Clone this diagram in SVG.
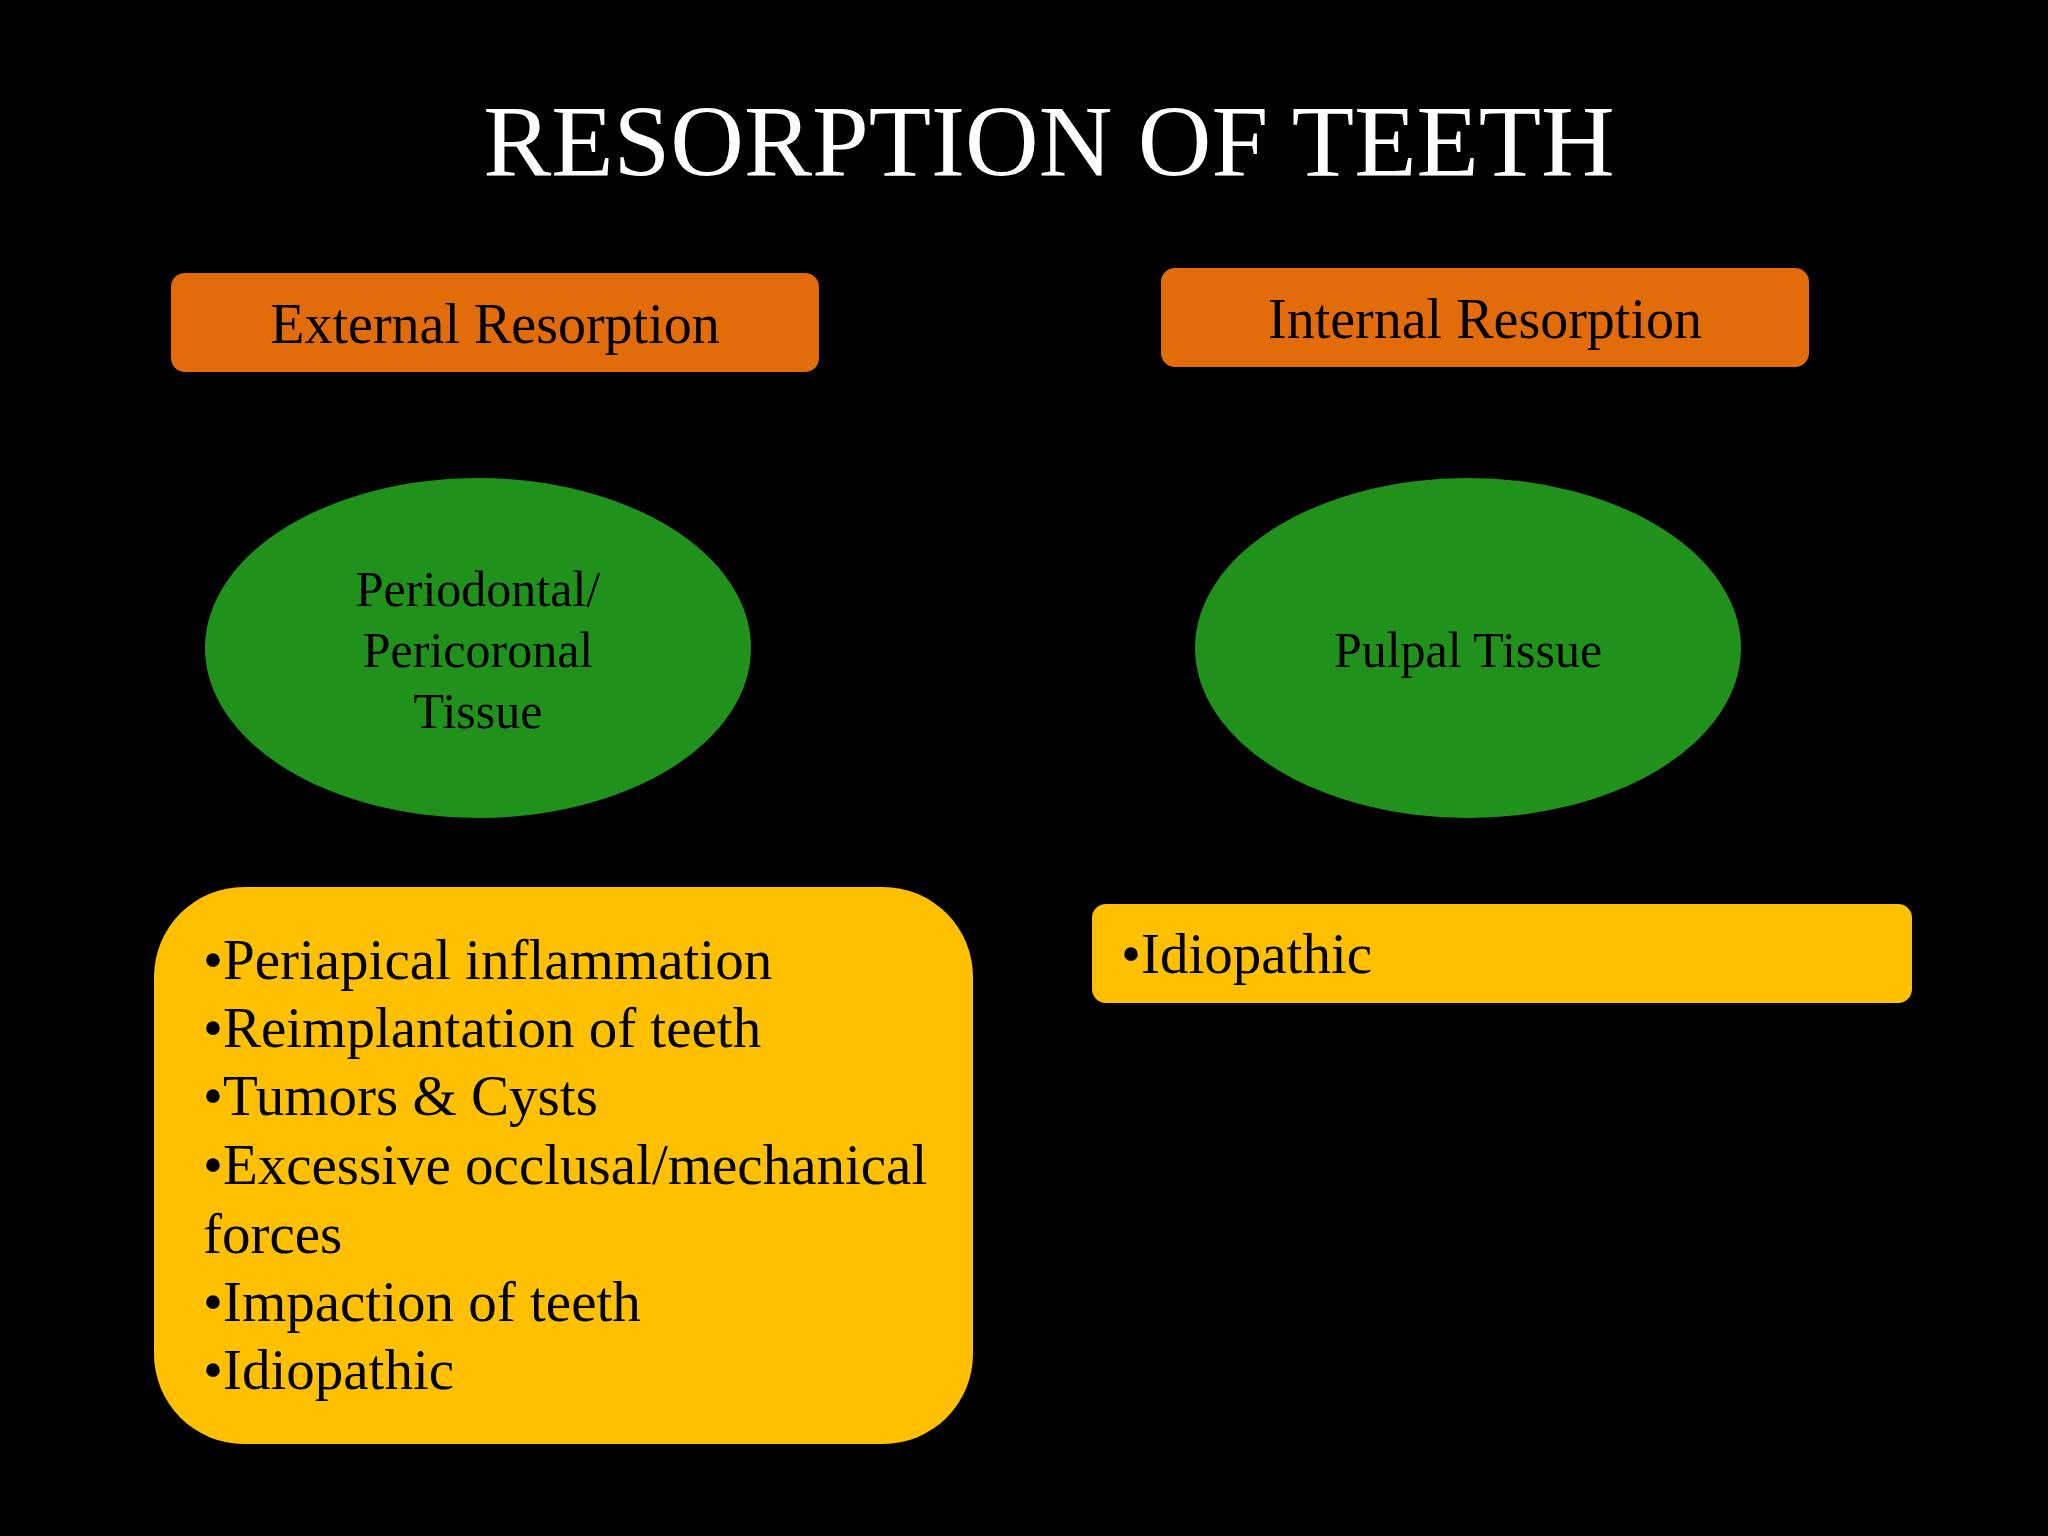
<svg xmlns="http://www.w3.org/2000/svg" width="2048" height="1536" viewBox="0 0 2048 1536">
<style>
.t{font-family:"Liberation Serif","Times New Roman",serif;fill:#000}
.title{font-family:"Liberation Serif","Times New Roman",serif;fill:#fff;font-size:102px}
.hdr{fill:#E36C0A}
.ell{fill:#20921C}
.yel{fill:#FFC000}
</style>
<rect width="2048" height="1536" fill="#000"/>
<text class="title" x="1049" y="176" text-anchor="middle">RESORPTION OF TEETH</text>
<g id="external">
<rect class="hdr" x="171" y="273" width="648" height="99" rx="14"/>
<text class="t" x="495" y="343" font-size="56" text-anchor="middle">External Resorption</text>
</g>
<g id="internal">
<rect class="hdr" x="1161" y="268" width="648" height="99" rx="14"/>
<text class="t" x="1485" y="338" font-size="56" text-anchor="middle">Internal Resorption</text>
</g>
<g id="periodontal">
<ellipse class="ell" cx="478" cy="648" rx="273" ry="170"/>
<text class="t" font-size="50" text-anchor="middle"><tspan x="478" y="606">Periodontal/</tspan><tspan x="478" y="667">Pericoronal</tspan><tspan x="478" y="728">Tissue</tspan></text>
</g>
<g id="pulpal">
<ellipse class="ell" cx="1468" cy="648" rx="273" ry="170"/>
<text class="t" x="1468" y="667" font-size="50" text-anchor="middle">Pulpal Tissue</text>
</g>
<g id="external-causes">
<rect class="yel" x="154" y="887" width="819" height="557" rx="90"/>
<text class="t" font-size="57"><tspan x="203" y="979">•Periapical inflammation</tspan><tspan x="203" y="1047">•Reimplantation of teeth</tspan><tspan x="203" y="1115">•Tumors &amp; Cysts</tspan><tspan x="203" y="1184">•Excessive occlusal/mechanical</tspan><tspan x="203" y="1253">forces</tspan><tspan x="203" y="1321">•Impaction of teeth</tspan><tspan x="203" y="1389">•Idiopathic</tspan></text>
</g>
<g id="internal-causes">
<rect class="yel" x="1092" y="904" width="820" height="99" rx="14"/>
<text class="t" x="1121" y="973" font-size="57">•Idiopathic</text>
</g>
<g id="connectors"/>
</svg>
